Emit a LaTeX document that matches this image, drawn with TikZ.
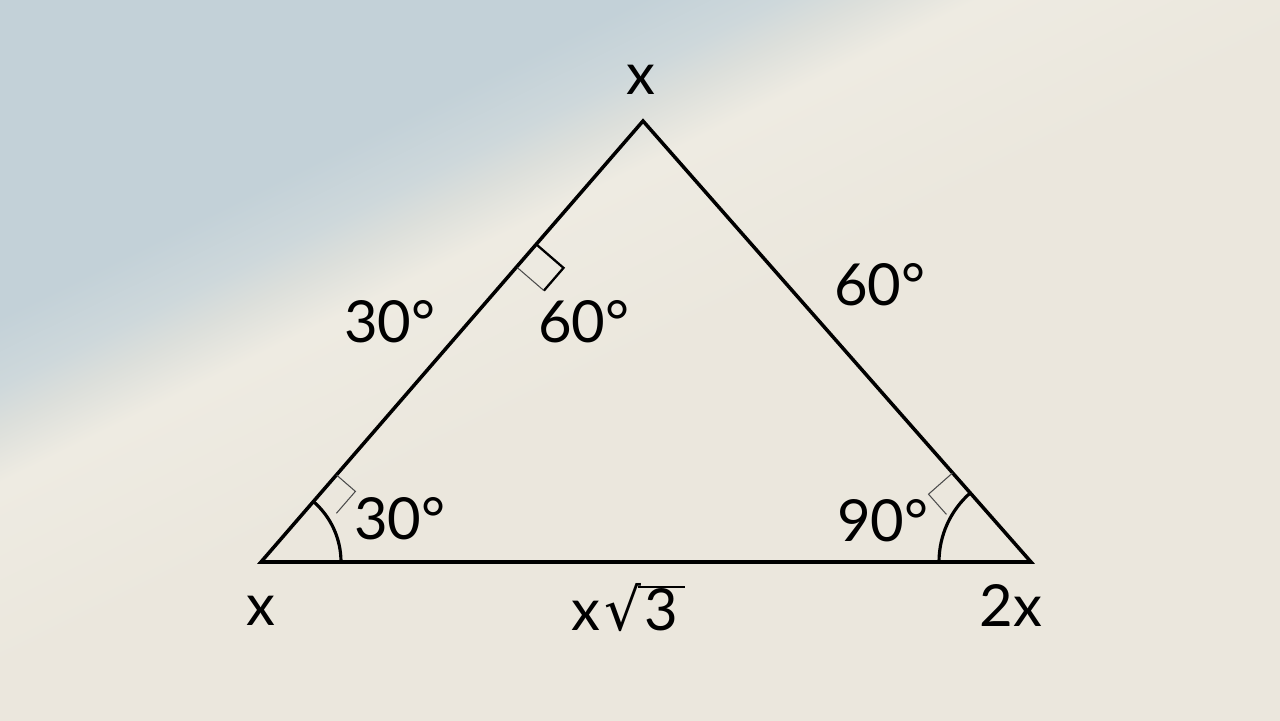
\documentclass[tikz,border=0pt]{standalone}
\usepackage{fontspec}
\setmainfont{Lato}
\newfontfamily\symfont{DejaVu Sans}

\definecolor{bgblue}{HTML}{C3D1D8}
\definecolor{bgbluelight}{HTML}{CED8DB}
\definecolor{bgmid}{HTML}{DCDFDB}
\definecolor{bglight}{HTML}{EEEBE2}
\definecolor{bgcream}{HTML}{EBE7DD}

\pgfdeclareverticalshading{bgshade}{100bp}{color(0bp)=(bgcream); color(50bp)=(bgcream); color(57bp)=(bglight); color(59bp)=(bgmid); color(60.5bp)=(bgbluelight); color(63bp)=(bgblue); color(100bp)=(bgblue)}

\begin{document}
\begin{tikzpicture}[
  x=0.02cm, y=0.02cm,
  side/.style={line width=2pt, line join=miter},
  anglearc/.style={line width=1.8pt},
  rightmark/.style={line width=0.6pt, black!70},
  lbl/.style={font=\fontsize{33}{40}\selectfont, anchor=base, inner sep=0pt}
]

\useasboundingbox (0, 0) rectangle (1280, 720);

% Background
\begin{scope}
\clip (0, 0) rectangle (1280, 720);
\shade[shading=bgshade, transform canvas={rotate around={26.3:(640, 360)}}] (-110, -260) rectangle (1390, 980);
\end{scope}

% Triangle
\coordinate (A) at (261, 158);
\coordinate (B) at (643, 599);
\coordinate (C) at (1031, 158);
\draw[side] (A) -- (B) -- (C) -- cycle;

% Angle arcs
\draw[anglearc] ([shift={(0:80)}]A) arc (0:49.1:80);
\draw[anglearc] ([shift={(180:92)}]C) arc (180:131.4:92);

% Right angle marks
\draw[line width=1.3pt] (537, 475) -- (563.5, 452.1) -- (543.9, 429.4);
\draw[rightmark] (543.9, 429.4) -- (517.4, 452.3);
\draw[rightmark] (336.5, 245) -- (355.4, 228.6) -- (336.4, 206.7);
\draw[rightmark] (952.5, 247) -- (928.5, 225.8) -- (946.4, 205.6);

% Side labels
\node[lbl] (topx) at (641, 625) {x};
\node[lbl] (leftx) at (261, 95) {x};
\node[lbl] (basex) at (625, 90) {x\kern2pt{\symfont √}\kern2pt3};
\node[lbl] (rightx) at (1011, 94) {2x};
\draw[line width=1.7pt] ([shift={(13, 43)}]basex.base) -- ([shift={(60, 43)}]basex.base);

% Angle labels
\node[lbl] (outerAB) at (390, 377) {30°};
\node[lbl] (innerAB) at (584, 377) {60°};
\node[lbl] (outerBC) at (880, 414) {60°};
\node[lbl] (angA) at (400, 180) {30°};
\node[lbl] (angC) at (883, 178) {90°};

\end{tikzpicture}
\end{document}
